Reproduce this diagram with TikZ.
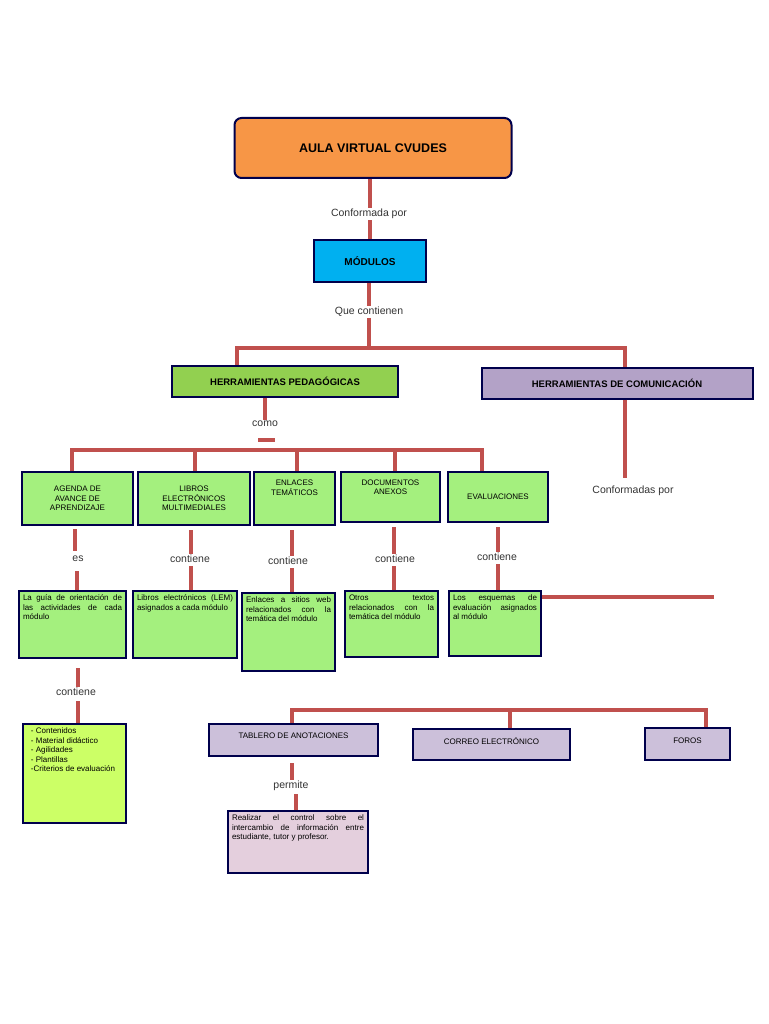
\documentclass[tikz,border=0pt]{standalone}
\usepackage{fontspec}
\setmainfont{Liberation Sans}
\newcommand{\tb}[3]{\parbox[t][#2][t]{#1}{\hyphenpenalty=10000\exhyphenpenalty=10000\tolerance=9999\emergencystretch=20pt #3}}
\begin{document}
\begin{tikzpicture}[x=1pt,y=-1pt,
 box/.style={draw=black!70!blue,line width=2pt,inner sep=3pt,font=\fontsize{8}{9.5}\selectfont},
 tbox/.style={box,anchor=north west,inner sep=4pt},
 lab/.style={font=\fontsize{10.5}{12}\selectfont,text=black!80,inner sep=1pt},
]
\definecolor{org}{HTML}{F79646}\definecolor{cy}{HTML}{00B0F0}\definecolor{gr}{HTML}{92D050}
\definecolor{lav}{HTML}{B3A2C7}\definecolor{lg}{HTML}{A4F07E}\definecolor{yg}{HTML}{CCFF66}
\definecolor{lav2}{HTML}{CCC0DA}\definecolor{pk}{HTML}{E4CFDD}\definecolor{rd}{HTML}{C0504D}
\tikzset{ln/.style={draw=rd,line width=3.5pt}}
\useasboundingbox (0,0) rectangle (768,1024);
% top
\node[box,fill=org,rounded corners=7pt,minimum width=277pt,minimum height=60pt,font=\bfseries\fontsize{12.5}{14}\selectfont] (aula) at (373,148) {AULA VIRTUAL CVUDES};
\node[lab] (l1) at (369,214) {Conformada por};
\node[box,fill=cy,minimum width=112pt,minimum height=42pt,font=\bfseries\fontsize{10}{12}\selectfont] (mod) at (370,261) {MÓDULOS};
\node[lab] (l2) at (369,312) {Que contienen};
\node[box,fill=gr,minimum width=226pt,minimum height=31pt,font=\bfseries\fontsize{9.5}{11}\selectfont] (hp) at (285,381) {HERRAMIENTAS PEDAGÓGICAS};
\node[box,fill=lav,minimum width=271pt,minimum height=31pt,font=\bfseries\fontsize{9.5}{11}\selectfont] (hc) at (617,383) {HERRAMIENTAS DE COMUNICACIÓN};
\draw[ln] (aula.south -| 370,0) -- (l1.north -| 370,0);
\draw[ln] (l1.south -| 370,0) -- (mod.north -| 370,0);
\draw[ln] (mod.south -| 369,0) -- (l2.north -| 369,0);
\draw[ln] (l2.south -| 369,0) -- (369,348);
\draw[ln] (hp.north -| 237,0) -- (237,348) -- (625,348) -- (hc.north -| 625,0);
% pedagogicas
\node[lab] (l3) at (265,424) {como};
\draw[ln] (hp.south -| 265,0) -- (l3.north -| 265,0);
\draw[ln] (258,440) -- (275,440);
\node[box,fill=lg,minimum width=111pt,minimum height=53pt,align=center] (b1) at (77.5,498.5) {AGENDA DE\\AVANCE DE\\APRENDIZAJE};
\node[box,fill=lg,minimum width=112pt,minimum height=53pt,align=center] (b2) at (194,498.5) {LIBROS\\ELECTRÓNICOS\\MULTIMEDIALES};
\node[box,fill=lg,minimum width=81pt,minimum height=53pt,align=center,text depth=22pt] (b3) at (294.5,498.5) {ENLACES\\TEMÁTICOS};
\node[box,fill=lg,minimum width=99pt,minimum height=50pt,align=center,text depth=20pt] (b4) at (390.5,497) {DOCUMENTOS\\ANEXOS};
\node[box,fill=lg,minimum width=100pt,minimum height=50pt] (b5) at (498,497) {EVALUACIONES};
\draw[ln] (b1.north -| 72,0) -- (72,450) -- (482,450) -- (b5.north -| 482,0);
\foreach \b/\x in {b2/195,b3/297,b4/395}{\draw[ln] (\x,450) -- (\b.north -| \x,0);}
% labels second level
\node[lab] (e1) at (78,559) {es};
\node[lab] (e2) at (190,559) {contiene};
\node[lab] (e3) at (288,561) {contiene};
\node[lab] (e4) at (395,559) {contiene};
\node[lab] (e5) at (497,557) {contiene};
\node[tbox,fill=lg] (c1) at (18,590) {\tb{99pt}{59pt}{La guía de orientación de las actividades de cada módulo}};
\node[tbox,fill=lg] (c2) at (132,590) {\tb{96pt}{59pt}{Libros electrónicos (LEM) asignados a cada módulo}};
\node[tbox,fill=lg] (c3) at (241,592) {\tb{85pt}{70pt}{Enlaces a sitios web relacionados con la temática del módulo}};
\node[tbox,fill=lg] (c4) at (344,590) {\tb{85pt}{58pt}{Otros textos relacionados con la temática del módulo}};
\node[tbox,fill=lg] (c5) at (448,590) {\tb{84pt}{57pt}{Los esquemas de evaluación asignados al módulo}};
\draw[ln] (b1.south -| 75,0) ++(0,3) -- (75,551);
\draw[ln] (77,571) -- (c1.north -| 77,0);
\foreach \b/\e/\c/\x in {b2/e2/c2/191,b3/e3/c3/292,b4/e4/c4/394,b5/e5/c5/498}{
 \draw[ln] (\b.south -| \x,0) ++(0,4) -- (\e.north -| \x,0);
 \draw[ln] (\e.south -| \x,0) ++(0,2) -- (\c.north -| \x,0);}
\coordinate (fr) at (714,597);
\draw[ln] (c5.east |- fr) -- (fr);
% contiene
\node[lab] (e6) at (76,692) {contiene};
\node[tbox,fill=yg] (d1) at (22,723) {\tb{95pt}{91pt}{\hspace*{4pt}- Contenidos\\\hspace*{4pt}- Material didáctico\\\hspace*{4pt}- Agilidades\\\hspace*{4pt}- Plantillas\\\hspace*{4pt}-Criterios de evaluación}};
\draw[ln] (c1.south -| 78,0) ++(0,9) -- (e6.north -| 78,0);
\draw[ln] (e6.south -| 78,0) ++(0,4) -- (d1.north -| 78,0);
% comunicacion
\node[lab] (l4) at (633,491) {Conformadas por};
\draw[ln] (hc.south -| 625,0) -- (625,478);
\node[box,fill=lav2,minimum width=169pt,minimum height=32pt,text depth=9pt] (t1) at (293.5,740) {TABLERO DE ANOTACIONES};
\node[box,fill=lav2,minimum width=157pt,minimum height=31pt,text depth=7pt] (t2) at (491.5,744.5) {CORREO ELECTRÓNICO};
\node[box,fill=lav2,minimum width=85pt,minimum height=32pt,text depth=7pt] (t3) at (687.5,744) {FOROS};
\draw[ln] (t1.north -| 292,0) -- (292,710) -- (706,710) -- (t3.north -| 706,0);
\draw[ln] (510,710) -- (t2.north -| 510,0);
\node[lab] (l5) at (291,786) {permite};
\node[tbox,fill=pk] (p1) at (227,810) {\tb{132pt}{54pt}{Realizar el control sobre el intercambio de información entre estudiante, tutor y profesor.}};
\draw[ln] (t1.south -| 292,0) ++(0,6) -- (l5.north -| 292,0);
\draw[ln] (l5.south -| 296,0) ++(0,2) -- (p1.north -| 296,0);
\end{tikzpicture}
\end{document}
